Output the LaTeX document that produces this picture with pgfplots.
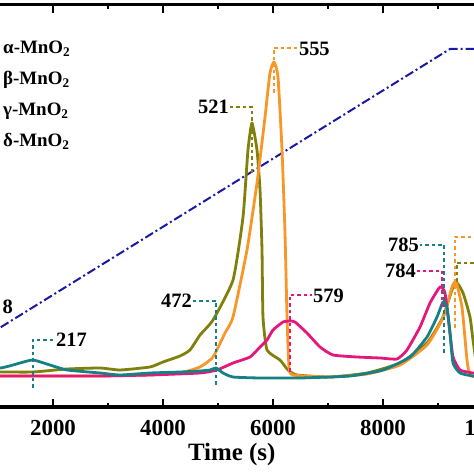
\documentclass[border=0pt]{standalone}
\usepackage{fontspec}
\setmainfont{Liberation Serif}
\usepackage{pgfplots}
\pgfplotsset{compat=1.18}
\definecolor{cOlive}{RGB}{128,128,12}
\definecolor{cOrange}{RGB}{248,150,40}
\definecolor{cPink}{RGB}{228,24,124}
\definecolor{cTeal}{RGB}{22,128,132}
\definecolor{cBlue}{RGB}{25,25,165}
\tikzset{lbl/.style={font=\fontsize{20.5}{20.5}\selectfont\bfseries, inner sep=0pt},
  dl/.style={line width=1.5bp, dash pattern=on 3.5bp off 3bp}}
\begin{document}
\begin{tikzpicture}
\useasboundingbox (0,0) rectangle (474bp,474bp);
\clip (0,0) rectangle (474bp,474bp);
\begin{axis}[at={(-57bp,67bp)}, anchor=south west, scale only axis,
  width=577.5bp, height=402bp, xmin=0, xmax=10500, ymin=0, ymax=402,
  clip=false, ytick=\empty, scaled x ticks=false,
  xtick={2000,4000,6000,8000,10000}, minor x tick num=1,
  tick align=inside, major tick length=8bp, minor tick length=4bp,
  every tick/.style={black, line width=2.5bp},
  axis line style={line width=3bp},
  /pgf/number format/assume math mode=true,
  /pgf/number format/set thousands separator={},
  xticklabel style={font=\fontsize{23}{23}\selectfont\bfseries, yshift=-10bp},
  xlabel={Time (s)},
  xlabel style={font=\fontsize{25}{25}\selectfont\bfseries, yshift=0bp},
  every axis plot/.append style={line width=2.8bp, line join=round, smooth, tension=0.3},
  ]
% blue temperature program
\addplot[cBlue, line width=2bp, sharp plot, dash pattern=on 9bp off 3bp on 2bp off 3bp] coordinates {
(0,44) (9218,358) (10500,358)};
% olive
\addplot[cOlive] coordinates {
(0,35) (1036,35) (1636,35) (2255,38) (2855,39) (3218,37) (3764,40) (4000,45) (4309,51) (4491,57) (4673,72) (4909,87) (5273,127) (5455,190) (5545,257) (5618,284) (5709,257) (5764,217) (5800,157) (5818,90) (5891,57) (6127,47) (6273,37) (6436,32) (7036,30) (7709,34) (8309,44) (8800,64) (9091,90) (9309,125) (9455,114) (9582,90) (9636,67) (9727,34) (9855,30) (10500,30)};
% orange
\addplot[cOrange] coordinates {
(0,31) (1036,31) (2855,31) (3764,32) (4309,34) (4673,40) (4909,50) (5127,74) (5273,90) (5527,157) (5709,224) (5855,290) (5945,334) (6018,345) (6091,330) (6164,257) (6218,174) (6255,90) (6291,40) (6364,32) (7036,30) (7709,33) (8309,42) (8800,62) (9091,89) (9255,120) (9327,125) (9436,100) (9527,47) (9582,32) (9764,30) (10500,30)};
% pink
\addplot[cPink] coordinates {
(0,31) (1036,31) (1764,31) (2855,31) (3764,32) (4673,34) (4982,37) (5273,44) (5582,50) (5764,60) (5891,67) (6000,77) (6182,85) (6309,86) (6400,85) (6618,74) (6855,60) (7091,52) (7527,50) (7945,49) (8255,48) (8436,57) (8673,80) (8855,104) (9036,120) (9127,114) (9218,74) (9273,50) (9400,37) (9636,34) (9945,32) (10500,31)};
% teal
\addplot[cTeal] coordinates {
(0,35) (1036,39) (1400,44) (1636,47) (1945,42) (2255,37) (2855,34) (3218,32) (3764,34) (4309,35) (4673,36) (4855,37) (4964,39) (5091,34) (5273,30) (5764,29) (6491,29) (7400,31) (8000,37) (8491,50) (8800,70) (8982,90) (9091,105) (9164,100) (9218,74) (9273,44) (9400,34) (9636,31) (9945,30) (10500,30)};
% annotations
\draw[cTeal, dl] (axis cs:1636,19) -- (axis cs:1636,67) -- (axis cs:2036,67);
\node[lbl, anchor=west] at (axis cs:2055,67) {217};
\draw[cTeal, dl] (axis cs:4964,22) -- (axis cs:4964,106) -- (axis cs:4545,106);
\node[lbl, anchor=east] at (axis cs:4527,106) {472};
\draw[cOlive, dl] (axis cs:5618,234) -- (axis cs:5618,300) -- (axis cs:5218,300);
\node[lbl, anchor=east] at (axis cs:5200,300) {521};
\draw[cOrange, dl] (axis cs:6018,314) -- (axis cs:6018,359) -- (axis cs:6455,359);
\node[lbl, anchor=west] at (axis cs:6470,358) {555};
\draw[cPink, dl] (axis cs:6309,35) -- (axis cs:6309,112) -- (axis cs:6709,112);
\node[lbl, anchor=west] at (axis cs:6727,111) {579};
\draw[cPink, dl] (axis cs:9073,100) -- (axis cs:9073,136) -- (axis cs:8618,136);
\node[lbl, anchor=east] at (axis cs:8600,136) {784};
\draw[cTeal, dl] (axis cs:9109,54) -- (axis cs:9109,162) -- (axis cs:8673,162);
\node[lbl, anchor=east] at (axis cs:8655,162) {785};
\draw[cOrange, dl] (axis cs:9309,79) -- (axis cs:9309,170) -- (axis cs:10300,170);
\draw[cOlive, dl] (axis cs:9345,125) -- (axis cs:9345,144) -- (axis cs:10300,144);
\node[lbl, anchor=east] at (axis cs:1273,100) {8};
\end{axis}
\begin{scope}[every node/.style={anchor=base west, inner sep=0pt, font=\fontsize{19}{19}\selectfont\bfseries}]
\node at (3bp,420bp) {α-MnO\textsubscript{2}};
\node at (3bp,389.5bp) {β-MnO\textsubscript{2}};
\node at (3bp,358bp) {γ-MnO\textsubscript{2}};
\node at (3bp,327bp) {δ-MnO\textsubscript{2}};
\end{scope}
\end{tikzpicture}
\end{document}
